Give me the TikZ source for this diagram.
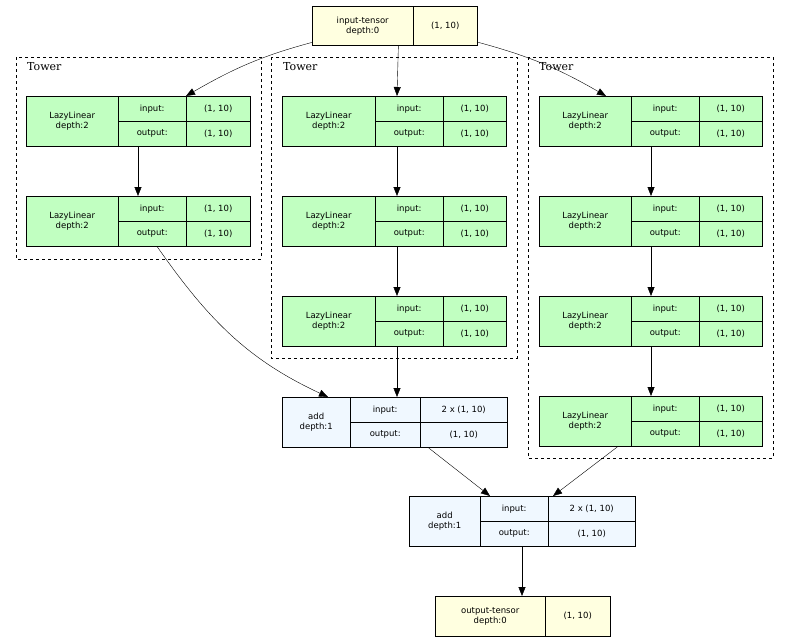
\documentclass[tikz,border=0pt]{standalone}
\usepackage{fontspec}
\setmainfont{DejaVu Sans}
\newfontfamily\towerfont{DejaVu Serif}
\usetikzlibrary{arrows.meta}
\definecolor{lingreen}{HTML}{C1FFC1}
\definecolor{tensoryellow}{HTML}{FFFFE0}
\definecolor{addblue}{HTML}{F0F8FF}
\tikzset{
  cell/.style={draw,inner sep=0,anchor=north west,font=\fontsize{8.5}{10}\selectfont,align=center},
  tower/.style={draw,dashed,thin},
  edge/.style={-{Triangle[length=9pt,width=7pt]},thin},
}
% block: name, x, y, w1, w2, w3, fill, label, input, output
\newcommand\blk[7]{%
  \def\bname{#1}\def\bx{#2}\def\by{#3}\def\bwa{#4}\def\bwb{#5}\def\bwc{#6}\def\bfill{#7}\blkrest}
\newcommand\blkrest[3]{%
  \node[cell,fill=\bfill,minimum width=\bwa pt,minimum height=50pt] (\bname-l) at (\bx,\by) {#1};
  \node[cell,fill=\bfill,minimum width=\bwb pt,minimum height=25pt] at (\bx+\bwa,\by) {input:};
  \node[cell,fill=\bfill,minimum width=\bwb pt,minimum height=25pt] at (\bx+\bwa,\by+25) {output:};
  \node[cell,fill=\bfill,minimum width=\bwc pt,minimum height=25pt] at (\bx+\bwa+\bwb,\by) {#2};
  \node[cell,fill=\bfill,minimum width=\bwc pt,minimum height=25pt] at (\bx+\bwa+\bwb,\by+25) {#3};
  \node[inner sep=0,anchor=north west,minimum width={(\bwa+\bwb+\bwc)*1pt},minimum height=50pt] (\bname) at (\bx,\by) {};}
\begin{document}
\begin{tikzpicture}[x=1pt,y=-1pt]
\useasboundingbox (0,0) rectangle (789,643);
% towers
\draw[tower] (16,57) rectangle (261,259);
\draw[tower] (271,57) rectangle (517,358);
\draw[tower] (528,57) rectangle (773,458);
\node[anchor=north west,inner sep=0,font=\towerfont\fontsize{11}{13}\selectfont] at (27,62) {Tower};
\node[anchor=north west,inner sep=0,font=\towerfont\fontsize{11}{13}\selectfont] at (283,62) {Tower};
\node[anchor=north west,inner sep=0,font=\towerfont\fontsize{11}{13}\selectfont] at (539,62) {Tower};
% input / output tensors
\node[cell,fill=tensoryellow,minimum width=101pt,minimum height=39pt] (in) at (312,6) {input-tensor\\depth:0};
\node[cell,fill=tensoryellow,minimum width=64pt,minimum height=39pt] at (413,6) {(1, 10)};
\node[cell,fill=tensoryellow,minimum width=110pt,minimum height=40pt] (out) at (435,596) {output-tensor\\depth:0};
\node[cell,fill=tensoryellow,minimum width=65pt,minimum height=40pt] at (545,596) {(1, 10)};
% tower 1
\blk{a1}{26}{96}{92}{68}{64}{lingreen}{LazyLinear\\depth:2}{(1, 10)}{(1, 10)}
\blk{a2}{26}{196}{92}{68}{64}{lingreen}{LazyLinear\\depth:2}{(1, 10)}{(1, 10)}
% tower 2
\blk{b1}{282}{96}{93}{68}{63}{lingreen}{LazyLinear\\depth:2}{(1, 10)}{(1, 10)}
\blk{b2}{282}{196}{93}{68}{63}{lingreen}{LazyLinear\\depth:2}{(1, 10)}{(1, 10)}
\blk{b3}{282}{296}{93}{68}{63}{lingreen}{LazyLinear\\depth:2}{(1, 10)}{(1, 10)}
% tower 3
\blk{c1}{539}{96}{92}{68}{63}{lingreen}{LazyLinear\\depth:2}{(1, 10)}{(1, 10)}
\blk{c2}{539}{196}{92}{68}{63}{lingreen}{LazyLinear\\depth:2}{(1, 10)}{(1, 10)}
\blk{c3}{539}{296}{92}{68}{63}{lingreen}{LazyLinear\\depth:2}{(1, 10)}{(1, 10)}
\blk{c4}{539}{396}{92}{68}{63}{lingreen}{LazyLinear\\depth:2}{(1, 10)}{(1, 10)}
% adds
\blk{d1}{282}{397}{68}{70}{87}{addblue}{add\\depth:1}{2 x (1, 10)}{(1, 10)}
\blk{d2}{409}{496}{71}{68}{87}{addblue}{add\\depth:1}{2 x (1, 10)}{(1, 10)}
% edges
\draw[edge] (in.south west) ++(0,-3) to[out=195,in=30] ([xshift=160pt]a1.north west);
\draw[edge] (in.south east) ++(-15,0) -- ([xshift=115pt]b1.north west);
\draw[edge] (413,42) ++(64,0) to[out=-15,in=150] ([xshift=67pt]c1.north west);
\draw[edge] ([xshift=112pt]a1.south west) -- ([xshift=112pt]a2.north west);
\draw[edge] ([xshift=115pt]b1.south west) -- ([xshift=115pt]b2.north west);
\draw[edge] ([xshift=115pt]b2.south west) -- ([xshift=115pt]b3.north west);
\draw[edge] ([xshift=112pt]c1.south west) -- ([xshift=112pt]c2.north west);
\draw[edge] ([xshift=112pt]c2.south west) -- ([xshift=112pt]c3.north west);
\draw[edge] ([xshift=112pt]c3.south west) -- ([xshift=112pt]c4.north west);
\draw[edge] ([xshift=131pt]a2.south west) to[out=-55,in=155] ([xshift=46pt]d1.north west);
\draw[edge] ([xshift=115pt]b3.south west) -- ([xshift=115pt]d1.north west);
\draw[edge] ([xshift=146pt]d1.south west) -- ([xshift=81pt]d2.north west);
\draw[edge] ([xshift=79pt]c4.south west) -- ([xshift=144pt]d2.north west);
\draw[edge] ([xshift=113pt]d2.south west) -- ([xshift=87pt]out.north west);
\end{tikzpicture}
\end{document}
